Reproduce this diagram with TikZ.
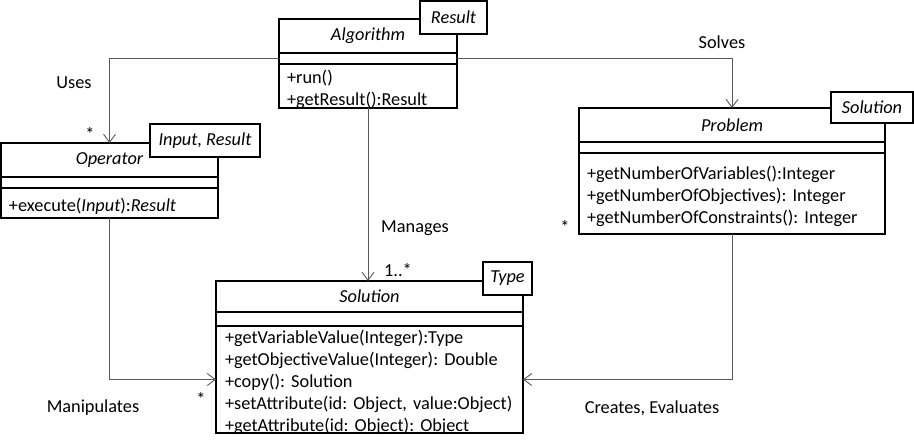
\documentclass[tikz,border=0pt]{standalone}
\usepackage{fontspec}
\setmainfont{Carlito}
\usetikzlibrary{arrows.meta}
\begin{document}
\frenchspacing
\begin{tikzpicture}[x=1pt,y=-1pt,
  font=\fontsize{18.3}{22}\selectfont\frenchspacing,
  box/.style={draw=black, line width=1.3pt, inner sep=0pt, outer sep=0pt, anchor=north west},
  ttl/.style={box, font=\fontsize{18.3}{22}\selectfont\itshape},
  mtext/.style={inner sep=0pt, align=left, anchor=center, yshift=-3pt},
  tmpl/.style={draw=black, line width=1.3pt, fill=white, inner sep=0pt, outer sep=0pt,
    font=\fontsize{18.3}{22}\selectfont\itshape\frenchspacing},
  conn/.style={draw=black!65, line width=0.9pt},
  arr/.style={conn, -{Straight Barb[length=8pt,width=12pt,line width=0.9pt]}},
  lbl/.style={inner sep=0pt}
]
\useasboundingbox (0,0) rectangle (914,447);

% Algorithm
\node[ttl, minimum width=178pt, minimum height=34pt] (algT) at (279,19) {Algorithm};
\node[box, minimum width=178pt, minimum height=11pt] (algA) at (algT.south west) {};
\node[box, minimum width=178pt, minimum height=44pt] (algM) at (algA.south west) {};
\node[mtext, text width=162pt] (algMt) at (algM.center) {+run()\\+getResult():Result};

% Operator
\node[ttl, minimum width=217pt, minimum height=34pt] (opT) at (1,143) {Operator};
\node[box, minimum width=217pt, minimum height=11pt] (opA) at (opT.south west) {};
\node[box, minimum width=217pt, minimum height=30pt] (opM) at (opA.south west) {};
\node[mtext, text width=201pt] (opMt) at (opM.center) {+execute(\textit{Input}):\textit{Result}};

% Problem
\node[ttl, minimum width=306pt, minimum height=34pt] (prT) at (579,108) {Problem};
\node[box, minimum width=306pt, minimum height=11pt] (prA) at (prT.south west) {};
\node[box, minimum width=306pt, minimum height=81pt] (prM) at (prA.south west) {};
\node[mtext, text width=290pt] (prMt) at (prM.center)
  {+getNumberOfVariables():Integer\\+getNumberOfObjectives): Integer\\+getNumberOfConstraints(): Integer};

% Solution
\node[ttl, minimum width=307pt, minimum height=31pt] (soT) at (216,281) {Solution};
\node[box, minimum width=307pt, minimum height=14pt] (soA) at (soT.south west) {};
\node[box, minimum width=307pt, minimum height=107pt] (soM) at (soA.south west) {};
\node[mtext, text width=289pt] (soMt) at (soM.center)
  {+getVariableValue(Integer):Type\\+getObjectiveValue(Integer): Double\\+copy(): Solution\\+setAttribute(id: Object, value:Object)\\+getAttribute(id: Object): Object};

% template parameter boxes
\node[tmpl, minimum width=67pt, minimum height=33pt] (algP) at (453.5,17.5) {Result};
\node[tmpl, minimum width=110pt, minimum height=33pt] (opP) at (205,140.5) {Input, Result};
\node[tmpl, minimum width=82pt, minimum height=31pt] (prP) at (872,107.5) {Solution};
\node[tmpl, minimum width=49pt, minimum height=33pt] (soP) at (507.5,278.5) {Type};

% connectors
\draw[arr] (algA.west) -| (opT.north);
\draw[arr] (algA.east) -| (prT.north);
\draw[arr] (algM.south) -- (algM.south |- soT.north);
\draw[arr] (opM.south) |- (soM.west);
\draw[arr] (prM.south) |- (soM.east);

% labels
\node[lbl] (uses) at (74,83) {Uses};
\node[lbl] (usesm) at (90,134) {*};
\node[lbl] (solves) at (722,42) {Solves};
\node[lbl] (manages) at (415,228) {Manages};
\node[lbl] (mult) at (398,270) {1..*};
\node[lbl] (prm) at (565,227) {*};
\node[lbl] (manip) at (93,408) {Manipulates};
\node[lbl] (manm) at (201,399) {*};
\node[lbl] (creates) at (652,408) {Creates, Evaluates};
\end{tikzpicture}
\end{document}
